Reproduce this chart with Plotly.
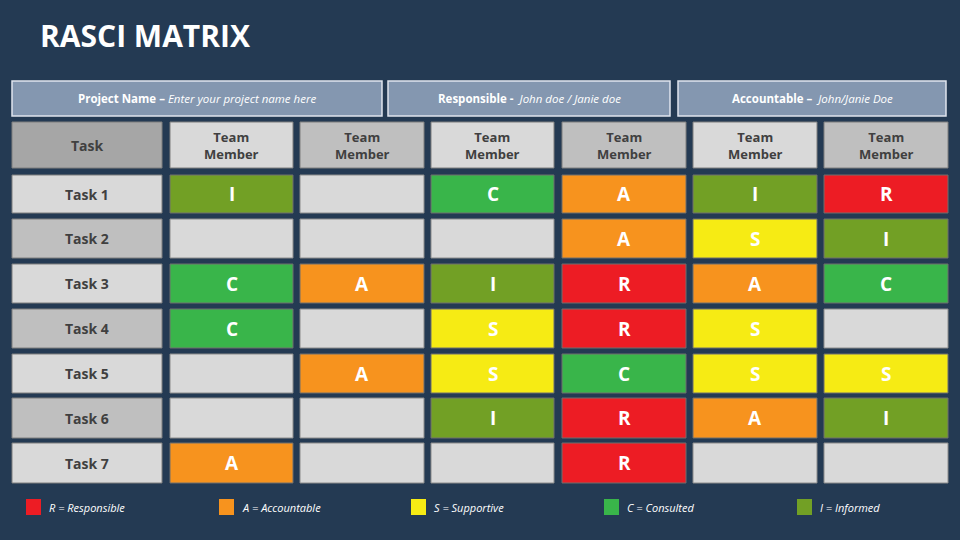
import plotly.graph_objects as go

# ---- data ----
TASKS = ["Task 1", "Task 2", "Task 3", "Task 4", "Task 5", "Task 6", "Task 7"]
MEMBERS = ["Team<br>Member"] * 6
MATRIX = [
    ["I", "", "C", "A", "I", "R"],
    ["", "", "", "A", "S", "I"],
    ["C", "A", "I", "R", "A", "C"],
    ["C", "", "S", "R", "S", ""],
    ["", "A", "S", "C", "S", "S"],
    ["", "", "I", "R", "A", "I"],
    ["A", "", "", "R", "", ""],
]
LEGEND = [("R", "R = Responsible"), ("A", "A = Accountable"), ("S", "S = Supportive"),
          ("C", "C = Consulted"), ("I", "I = Informed")]
BANNERS = ["<b>Project Name – </b><i>Enter your project name here</i>",
           "<b>Responsible - </b> <i>John doe / Janie doe</i>",
           "<b>Accountable – </b> <i>John/Janie Doe</i>"]

# ---- style ----
BG = "#243a53"
COLORS = {"R": "#ed1c24", "A": "#f7931e", "S": "#f6eb14", "C": "#39b54a", "I": "#72a025", "": "#d9d9d9"}
FONT = "Open Sans"

COL_X = [(170, 293), (300, 424), (431, 554), (562, 686), (693, 817), (824, 948)]
TASK_X = (12, 162)
HEAD_Y = (122, 168)
ROW_Y = [(175, 213), (219, 258), (264, 303), (309, 348), (354, 393), (398, 438), (443, 483)]
BANNER_X = [(12, 382), (388, 670), (678, 946)]
BANNER_Y = (81, 116)

fig = go.Figure()
shapes, ann = [], []

def rect(x0, x1, y0, y1, fill, line="#7f7f7f", lw=1):
    shapes.append(dict(type="rect", xref="x", yref="y", x0=x0, x1=x1, y0=y0, y1=y1,
                       fillcolor=fill, line=dict(color=line, width=lw), layer="below"))

def text(x, y, t, size=13, color="#404040", xanchor="center"):
    ann.append(dict(x=x, y=y, xref="x", yref="y", text=t, showarrow=False, xanchor=xanchor,
                    font=dict(family=FONT, size=size, color=color)))

for (x0, x1), t in zip(BANNER_X, BANNERS):
    rect(x0, x1, BANNER_Y[0], BANNER_Y[1], "#8497b0", line="#dfe5ee", lw=1.5)
    text((x0 + x1) / 2, sum(BANNER_Y) / 2, t, size=11.5, color="white")

rect(TASK_X[0], TASK_X[1], HEAD_Y[0], HEAD_Y[1], "#a6a6a6")
text(sum(TASK_X) / 2, sum(HEAD_Y) / 2, "<b>Task</b>", size=14)
for j, ((x0, x1), m) in enumerate(zip(COL_X, MEMBERS)):
    rect(x0, x1, HEAD_Y[0], HEAD_Y[1], "#d9d9d9" if j % 2 == 0 else "#bfbfbf")
    text((x0 + x1) / 2, sum(HEAD_Y) / 2, "<b>" + m + "</b>", size=13)

for i, ((y0, y1), task) in enumerate(zip(ROW_Y, TASKS)):
    rect(TASK_X[0], TASK_X[1], y0, y1, "#d9d9d9" if i % 2 == 0 else "#bfbfbf")
    text(sum(TASK_X) / 2, (y0 + y1) / 2, "<b>" + task + "</b>", size=14)
    for (x0, x1), v in zip(COL_X, MATRIX[i]):
        rect(x0, x1, y0, y1, COLORS[v], line="#8c8c8c" if v == "" else "#6e6e6e")
        if v:
            text((x0 + x1) / 2, (y0 + y1) / 2, "<b>" + v + "</b>", size=19, color="white")

LEG_X = [26, 219, 411, 604, 797]
for x, (k, label) in zip(LEG_X, LEGEND):
    shapes.append(dict(type="rect", xref="x", yref="y", x0=x, x1=x + 15, y0=499, y1=515,
                       fillcolor=COLORS[k], line=dict(width=0)))
    text(x + 21, 507, "<i>" + label + "</i>", size=11, color="white", xanchor="left")

text(38, 35, "<b>RASCI MATRIX</b>", size=30, color="white", xanchor="left")

# invisible trace to hold the axes
fig.add_trace(go.Scatter(x=[0, 960], y=[0, 540], mode="markers", marker=dict(opacity=0),
                         hoverinfo="skip", showlegend=False))
fig.update_layout(
    width=960, height=540, margin=dict(l=0, r=0, t=0, b=0),
    paper_bgcolor=BG, plot_bgcolor=BG, shapes=shapes, annotations=ann,
    xaxis=dict(range=[0, 960], visible=False, fixedrange=True),
    yaxis=dict(range=[540, 0], visible=False, fixedrange=True),
)
fig.write_html("out.html", config={"displayModeBar": False},
               post_script="document.body.style.margin='0';document.body.style.overflow='hidden';")
